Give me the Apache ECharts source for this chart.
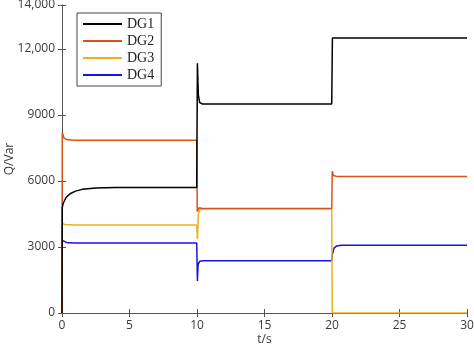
<!DOCTYPE html>
<html>
<head>
<meta charset="utf-8">
<script src="https://cdn.jsdelivr.net/npm/echarts@6/dist/echarts.min.js"></script>
<style>
html,body{margin:0;padding:0;background:#fff;}
#main{width:474px;height:353px;}
</style>
</head>
<body>
<div id="main"></div>
<script>
// 图例名称
var names = ['DG1', 'DG2', 'DG3', 'DG4']
// 每台DG的无功功率 [t/s, Q/Var]
var dg1 = [[0,0],[0.02,4800],[0.1,5000],[0.3,5250],[0.6,5420],[1,5540],[1.5,5620],[2.5,5680],[4,5700],[9.98,5700],
    [10.03,11350],[10.1,9900],[10.2,9560],[10.4,9500],[15,9500],[19.98,9500],[20.03,12500],[25,12500],[30,12500]]
var dg2 = [[0,0],[0.02,8200],[0.15,7950],[0.4,7870],[1,7850],[9.98,7850],
    [10.02,4600],[10.15,4780],[10.4,4750],[19.98,4750],[20.02,6450],[20.1,6250],[20.4,6200],[30,6200]]
var dg3 = [[0,0],[0.02,4100],[0.2,4020],[1,4000],[9.98,4000],
    [10.03,3350],[10.1,4500],[10.25,4720],[10.6,4740],[19.98,4740],[20.02,0],[30,0]]
var dg4 = [[0,0],[0.02,3300],[0.1,3220],[0.4,3190],[1,3180],[9.98,3180],
    [10.03,1450],[10.08,2200],[10.2,2350],[10.5,2370],[19.98,2370],[20.02,2650],[20.15,2950],[20.35,3050],[20.7,3080],[30,3080]]
var colors = ['#000000', '#d95319', '#edb120', '#1515e0']
var x_ticks = [0, 30, 5]      // min, max, interval
var y_ticks = [0, 14000, 3000]

var myChart = echarts.init(document.getElementById('main'))
var serifFont = '"Liberation Serif", "Times New Roman", serif'
var sansFont = '"Open Sans", "Noto Sans", sans-serif'
var axisColor = '#555555'
var labelColor = '#3a3a3a'

function yLabel(v){
    return v >= 10000 ? echarts.format.addCommas(v) : String(v)
}

var series = []
var all_data = [dg1, dg2, dg3, dg4]
for (var i = 0; i < names.length; i++) {
    series.push({
        name: names[i],
        type: 'line',
        symbol: 'none',
        data: all_data[i],
        lineStyle: {width: 1.5, color: colors[i]},
        itemStyle: {color: colors[i]},
        z: 10 - i
    })
}

var option = {
    animation: false,
    grid: {left: 62, right: 7, top: 5, bottom: 40, containLabel: false, outerBoundsMode: 'none'},
    legend: {
        orient: 'vertical',
        left: 77,
        top: 13,
        padding: [4, 7, 4, 5],
        itemWidth: 39,
        itemHeight: 14,
        itemGap: 3,
        borderColor: '#444',
        borderWidth: 1,
        data: names,
        itemStyle: {opacity: 0},
        lineStyle: {width: 2},
        textStyle: {fontFamily: serifFont, fontSize: 14, color: '#222'}
    },
    xAxis: [
        {
            type: 'value',
            min: x_ticks[0], max: x_ticks[1], interval: x_ticks[2],
            name: 't/s',
            nameLocation: 'middle',
            nameGap: 21,
            nameMoveOverlap: false,
            nameTextStyle: {fontFamily: sansFont, fontSize: 12, color: labelColor},
            splitLine: {show: false},
            axisLine: {show: true, lineStyle: {color: axisColor, width: 1}},
            axisTick: {show: true, inside: true, length: 4, lineStyle: {color: axisColor}},
            axisLabel: {fontFamily: sansFont, fontSize: 12, color: labelColor, margin: 7}
        },
        {
            type: 'value',
            position: 'top',
            min: x_ticks[0], max: x_ticks[1], interval: x_ticks[2],
            splitLine: {show: false},
            axisLine: {show: true, lineStyle: {color: axisColor, width: 1}},
            axisTick: {show: true, inside: true, length: 4, lineStyle: {color: axisColor}},
            axisLabel: {show: false}
        }
    ],
    yAxis: [
        {
            type: 'value',
            min: y_ticks[0], max: y_ticks[1], interval: y_ticks[2],
            name: 'Q/Var',
            nameLocation: 'middle',
            nameGap: 46,
            nameMoveOverlap: false,
            nameTextStyle: {fontFamily: sansFont, fontSize: 12, color: labelColor},
            splitLine: {show: false},
            axisLine: {show: true, lineStyle: {color: axisColor, width: 1}},
            axisTick: {show: true, inside: true, length: 4, lineStyle: {color: axisColor}},
            axisLabel: {fontFamily: sansFont, fontSize: 12, color: labelColor, margin: 7, formatter: yLabel}
        },
        {
            type: 'value',
            position: 'right',
            min: y_ticks[0], max: y_ticks[1], interval: y_ticks[2],
            splitLine: {show: false},
            axisLine: {show: true, lineStyle: {color: axisColor, width: 1}},
            axisTick: {show: true, inside: true, length: 4, lineStyle: {color: axisColor}},
            axisLabel: {show: false}
        }
    ],
    series: series
}
myChart.setOption(option)
</script>
</body>
</html>
